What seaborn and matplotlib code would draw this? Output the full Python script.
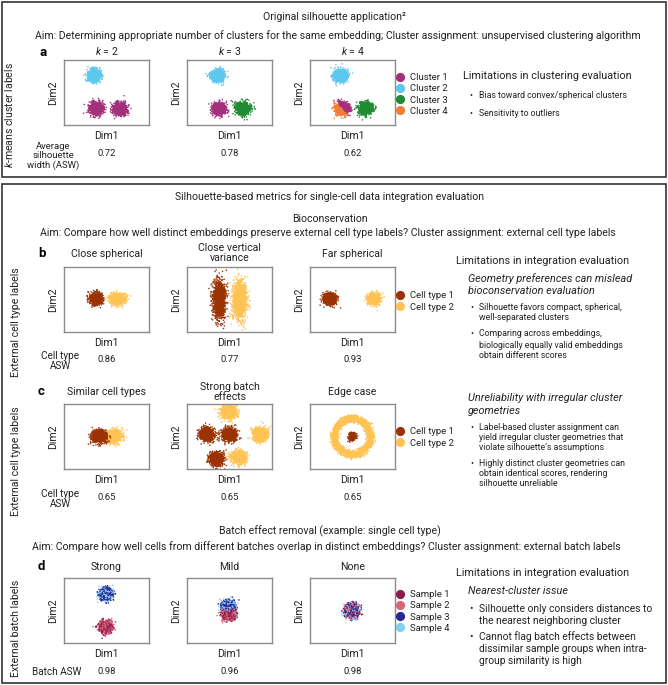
import numpy as np
import pandas as pd
import matplotlib
matplotlib.use("Agg")
import matplotlib.pyplot as plt
import seaborn as sns
from matplotlib.lines import Line2D
from matplotlib.patches import Rectangle

# ---------------- data ----------------
CLUSTER_NAMES = ["Cluster 1", "Cluster 2", "Cluster 3", "Cluster 4"]
CLUSTER_COLORS = ["#A3307A", "#5CC8EF", "#1F8B33", "#F27E33"]
CELL_NAMES = ["Cell type 1", "Cell type 2"]
CELL_COLORS = ["#9B3203", "#FEC353"]
SAMPLE_NAMES = ["Sample 1", "Sample 2", "Sample 3", "Sample 4"]
SAMPLE_COLORS = ["#8C1C4F", "#DB6478", "#2B2593", "#7FD0F2"]

A_TITLES = ["$k$ = 2", "$k$ = 3", "$k$ = 4"]
A_ASW = [0.72, 0.78, 0.62]
B_TITLES = ["Close spherical", "Close vertical\nvariance", "Far spherical"]
B_ASW = [0.86, 0.77, 0.93]
C_TITLES = ["Similar cell types", "Strong batch\neffects", "Edge case"]
C_ASW = [0.65, 0.65, 0.65]
D_TITLES = ["Strong", "Mild", "None"]
D_ASW = [0.98, 0.96, 0.98]

# blobs: (label, centre x, centre y, sd x, sd y, n points) in a 8.5 x 6.5 embedding
A1_BLOBS = [("Cluster 2", 3.06, 4.94, 0.33, 0.30, 800),
            ("Cluster 1", 3.23, 1.63, 0.35, 0.32, 800),
            ("Cluster 1", 5.60, 1.63, 0.35, 0.32, 800)]
A2_BLOBS = [("Cluster 2", 3.06, 4.94, 0.33, 0.30, 800),
            ("Cluster 1", 3.23, 1.63, 0.35, 0.32, 800),
            ("Cluster 3", 5.60, 1.63, 0.35, 0.32, 800)]
A3_BLOBS = [("Cluster 2", 3.06, 4.94, 0.33, 0.30, 800),
            ("Cluster 1|Cluster 4", 3.23, 1.63, 0.35, 0.32, 800),
            ("Cluster 3", 5.60, 1.63, 0.35, 0.32, 800)]
B1_BLOBS = [("Cell type 1", 3.23, 3.30, 0.30, 0.28, 800),
            ("Cell type 2", 5.35, 3.30, 0.40, 0.28, 800)]
B2_BLOBS = [("Cell type 1", 3.23, 3.25, 0.32, 0.95, 1300),
            ("Cell type 2", 5.27, 3.25, 0.34, 0.95, 1300)]
B3_BLOBS = [("Cell type 1", 2.00, 3.30, 0.30, 0.28, 800),
            ("Cell type 2", 6.38, 3.30, 0.32, 0.28, 800)]
C1_BLOBS = [("Cell type 2", 4.95, 3.25, 0.38, 0.30, 850),
            ("Cell type 1", 3.55, 3.25, 0.38, 0.32, 850)]
C2_BLOBS = [("Cell type 2", 4.17, 5.72, 0.36, 0.34, 700),
            ("Cell type 1", 2.04, 3.45, 0.38, 0.34, 700),
            ("Cell type 1", 4.25, 3.45, 0.38, 0.34, 700),
            ("Cell type 2", 7.31, 3.45, 0.38, 0.34, 700),
            ("Cell type 1", 2.98, 0.98, 0.36, 0.34, 700),
            ("Cell type 2", 5.19, 1.17, 0.38, 0.32, 700)]
C3_BLOBS = [("Cell type 1", 4.25, 3.25, 0.18, 0.18, 350)]
# ring: (label, centre x, centre y, radius, radial sd, n points)
C3_RINGS = [("Cell type 2", 4.25, 3.25, 1.80, 0.17, 2600)]
D1_BLOBS = [("Sample 1", 4.20, 1.63, 0.33, 0.31, 400),
            ("Sample 2", 4.20, 1.63, 0.33, 0.31, 400),
            ("Sample 3", 4.17, 4.94, 0.33, 0.30, 400),
            ("Sample 4", 4.17, 4.94, 0.33, 0.30, 400)]
D2_BLOBS = [("Sample 1", 4.17, 2.85, 0.33, 0.30, 400),
            ("Sample 2", 4.17, 2.85, 0.33, 0.30, 400),
            ("Sample 3", 4.12, 3.70, 0.33, 0.30, 400),
            ("Sample 4", 4.12, 3.70, 0.33, 0.30, 400)]
D3_BLOBS = [("Sample 1", 4.17, 3.25, 0.33, 0.31, 400),
            ("Sample 2", 4.17, 3.25, 0.33, 0.31, 400),
            ("Sample 3", 4.17, 3.25, 0.33, 0.31, 400),
            ("Sample 4", 4.17, 3.25, 0.33, 0.31, 400)]

# ---------------- style ----------------
W, H = 668, 685
sns.set_theme(style="white")
plt.rcParams["font.family"] = ["Roboto", "DejaVu Sans"]
plt.rcParams["mathtext.fontset"] = "custom"
plt.rcParams["mathtext.rm"] = "Roboto"
plt.rcParams["mathtext.it"] = "Roboto:italic"
plt.rcParams["mathtext.bf"] = "Roboto:bold"
TXT = "#222222"
SPINE = "#8c8c8c"

rng = np.random.default_rng(7)


def blob_frame(blobs, rings=(), shuffle=False):
    parts = []
    for lab, cx, cy, sx, sy, n in blobs:
        x = rng.normal(cx, sx, n)
        y = rng.normal(cy, sy, n)
        if "|" in lab:
            l1, l2 = lab.split("|")
            labs = np.where((x - cx) + (y - cy) > 0, l1, l2)
        else:
            labs = np.full(n, lab)
        parts.append(pd.DataFrame({"x": x, "y": y, "label": labs}))
    for lab, cx, cy, r, sr, n in rings:
        ang = rng.uniform(0, 2 * np.pi, n)
        rad = rng.normal(r, sr, n)
        parts.append(pd.DataFrame({"x": cx + rad * np.cos(ang),
                                   "y": cy + rad * np.sin(ang),
                                   "label": lab}))
    df = pd.concat(parts, ignore_index=True)
    if shuffle:
        df = df.sample(frac=1, random_state=3).reset_index(drop=True)
    return df


fig = plt.figure(figsize=(W / 100, H / 100), dpi=100)


def T(x, y, s, size=7.3, ha="left", va="center", **kw):
    kw.setdefault("color", TXT)
    return fig.text(x / W, 1 - y / H, s, fontsize=size, ha=ha, va=va, **kw)


AX_W, AX_H = 85, 65
LEFTS = [64, 187, 310]


def make_ax(left, top, df, names, colors):
    ax = fig.add_axes([left / W, 1 - (top + AX_H) / H, AX_W / W, AX_H / H])
    sns.scatterplot(data=df, x="x", y="y", hue="label", hue_order=names,
                    palette=colors, s=1.3, marker="o", linewidth=0,
                    alpha=0.95, legend=False, ax=ax)
    ax.set_xlim(0, 8.5)
    ax.set_ylim(0, 6.5)
    ax.set_xticks([])
    ax.set_yticks([])
    ax.set_xlabel("Dim1", fontsize=7.6, color=TXT, labelpad=4.5)
    ax.set_ylabel("Dim2", fontsize=7.6, color=TXT, labelpad=4.5)
    for sp in ax.spines.values():
        sp.set_color(SPINE)
        sp.set_linewidth(1.0)
    return ax


def legend(x, yc, names, colors, size=6.8):
    handles = [Line2D([], [], marker="o", ls="", color=c, markersize=5.6)
               for c in colors]
    fig.legend(handles, names, loc="center left",
               bbox_to_anchor=(x / W, 1 - yc / H), bbox_transform=fig.transFigure,
               frameon=False, fontsize=size, handlelength=1.0,
               handletextpad=0.55, labelspacing=0.22, borderpad=0,
               borderaxespad=0, labelcolor=TXT)


# ---------------- outer boxes ----------------
fig.patches.append(Rectangle((1.5 / W, 1 - 177 / H), 664 / W, 175.5 / H,
                             transform=fig.transFigure, fill=False,
                             ec="#333333", lw=1.2))
fig.patches.append(Rectangle((1.5 / W, 1 - 683 / H), 664 / W, 499 / H,
                             transform=fig.transFigure, fill=False,
                             ec="#333333", lw=1.2))

# ---------------- panel a ----------------
T(334, 17, "Original silhouette application²", 7.6, ha="center")
T(338, 36, "Aim: Determining appropriate number of clusters for the same embedding; "
           "Cluster assignment: unsupervised clustering algorithm", 7.6, ha="center")
T(40, 52, "a", 9.5, weight="bold", color="black")
for i, blobs in enumerate([A1_BLOBS, A2_BLOBS, A3_BLOBS]):
    make_ax(LEFTS[i], 60, blob_frame(blobs), CLUSTER_NAMES, CLUSTER_COLORS)
    T(LEFTS[i] + AX_W / 2, 51, A_TITLES[i], 7.6, ha="center")
    T(LEFTS[i] + AX_W / 2, 153, f"{A_ASW[i]:.2f}", 6.8, ha="center")
T(53, 156, "Average\nsilhouette\nwidth (ASW)", 6.8, ha="center", linespacing=1.05)
T(9, 115, "$k$-means cluster labels", 7.6, ha="center", rotation=90)
legend(395, 94.5, CLUSTER_NAMES, CLUSTER_COLORS)
T(463, 76, "Limitations in clustering evaluation", 7.8)
for y, s in [(95, "Bias toward convex/spherical clusters"), (113, "Sensitivity to outliers")]:
    T(469, y, "•", 6.3)
    T(479, y, s, 6.3)

# ---------------- panels b, c ----------------
T(330, 197, "Silhouette-based metrics for single-cell data integration evaluation", 7.6, ha="center")
T(330, 219, "Bioconservation", 7.6, ha="center")
T(328, 233, "Aim: Compare how well distinct embeddings preserve external cell type labels? "
            "Cluster assignment: external cell type labels", 7.6, ha="center")
T(38, 254, "b", 9.5, weight="bold", color="black")
for i, blobs in enumerate([B1_BLOBS, B2_BLOBS, B3_BLOBS]):
    make_ax(LEFTS[i], 267, blob_frame(blobs), CELL_NAMES, CELL_COLORS)
    T(LEFTS[i] + AX_W / 2, 254 if "\n" not in B_TITLES[i] else 253,
      B_TITLES[i], 7.6, ha="center", linespacing=1.0)
    T(LEFTS[i] + AX_W / 2, 359, f"{B_ASW[i]:.2f}", 6.8, ha="center")
T(60, 361, "Cell type\nASW", 7.2, ha="center", linespacing=1.1)
T(16, 322, "External cell type labels", 7.6, ha="center", rotation=90)
legend(395, 301.5, CELL_NAMES, CELL_COLORS)
T(456, 261, "Limitations in integration evaluation", 7.8)
T(468, 279, "Geometry preferences can mislead", 7.8, style="italic")
T(468, 291, "bioconservation evaluation", 7.8, style="italic")
for lines, ys in [(["Silhouette favors compact, spherical,", "well-separated clusters"], [307, 317]),
                  (["Comparing across embeddings,", "biologically equally valid embeddings",
                    "obtain different scores"], [334, 345, 355])]:
    T(470, ys[0], "•", 6.3)
    for s, y in zip(lines, ys):
        T(479, y, s, 6.3)

T(38, 392, "c", 9.5, weight="bold", color="black")
for i, blobs in enumerate([C1_BLOBS, C2_BLOBS, C3_BLOBS]):
    rings = C3_RINGS if i == 2 else ()
    make_ax(LEFTS[i], 404, blob_frame(blobs, rings), CELL_NAMES, CELL_COLORS)
    T(LEFTS[i] + AX_W / 2, 392, C_TITLES[i], 7.6, ha="center", linespacing=1.0)
    T(LEFTS[i] + AX_W / 2, 497, f"{C_ASW[i]:.2f}", 6.8, ha="center")
T(60, 499, "Cell type\nASW", 7.2, ha="center", linespacing=1.1)
T(16, 461, "External cell type labels", 7.6, ha="center", rotation=90)
legend(395, 437.5, CELL_NAMES, CELL_COLORS)
T(468, 398, "Unreliability with irregular cluster", 7.8, style="italic")
T(468, 411, "geometries", 7.8, style="italic")
for lines, ys in [(["Label-based cluster assignment can", "yield irregular cluster geometries that",
                    "violate silhouette\u2019s assumptions"], [427, 437, 448]),
                  (["Highly distinct cluster geometries can", "obtain identical scores, rendering",
                    "silhouette unreliable"], [463, 474, 484])]:
    T(470, ys[0], "•", 6.3)
    for s, y in zip(lines, ys):
        T(479, y, s, 6.3)

# ---------------- panel d ----------------
T(330, 531, "Batch effect removal (example: single cell type)", 7.6, ha="center")
T(326, 547, "Aim: Compare how well cells from different batches overlap in distinct embeddings? "
            "Cluster assignment: external batch labels", 7.6, ha="center")
T(38, 567, "d", 9.5, weight="bold", color="black")
for i, blobs in enumerate([D1_BLOBS, D2_BLOBS, D3_BLOBS]):
    make_ax(LEFTS[i], 578, blob_frame(blobs, shuffle=True), SAMPLE_NAMES, SAMPLE_COLORS)
    T(LEFTS[i] + AX_W / 2, 567, D_TITLES[i], 7.6, ha="center")
    T(LEFTS[i] + AX_W / 2, 672, f"{D_ASW[i]:.2f}", 6.8, ha="center")
T(57, 672, "Batch ASW", 7.2, ha="center")
T(16, 628, "External batch labels", 7.6, ha="center", rotation=90)
legend(395, 611.5, SAMPLE_NAMES, SAMPLE_COLORS)
T(456, 573, "Limitations in integration evaluation", 7.8)
T(468, 591, "Nearest-cluster issue", 7.8, style="italic")
for lines, ys in [(["Silhouette only considers distances to", "the nearest neighboring cluster"], [609, 621]),
                  (["Cannot flag batch effects between", "dissimilar sample groups when intra-",
                    "group similarity is high"], [637, 649, 661])]:
    T(469, ys[0], "•", 7.4)
    for s, y in zip(lines, ys):
        T(479, y, s, 7.4)

fig.savefig("out.png", dpi=100)
